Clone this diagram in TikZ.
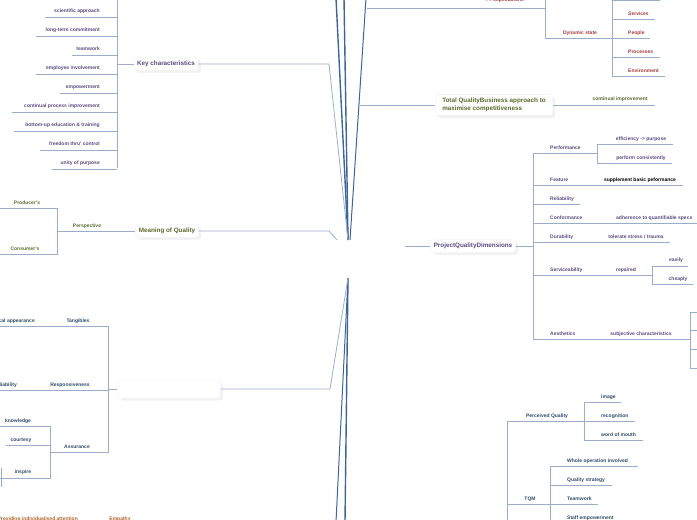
\documentclass[tikz,border=0pt]{standalone}
\usepackage{fontspec}
\setmainfont{Liberation Sans}
\usetikzlibrary{shadows}
\definecolor{cpur}{HTML}{5B4A80}
\definecolor{colv}{HTML}{5A6B2E}
\definecolor{cred}{HTML}{A33A3A}
\definecolor{ctl}{HTML}{2E4A66}
\definecolor{corg}{HTML}{B0642A}
\definecolor{cln}{HTML}{9AAECB}
\definecolor{ctr}{HTML}{3E6598}
\begin{document}
\begin{tikzpicture}[x=1pt,y=-1pt,
  lf/.style={font=\fontsize{5}{6}\selectfont\bfseries,inner sep=1pt},
  pur/.style={lf,text=cpur},
  olv/.style={lf,text=colv},
  rd/.style={lf,text=cred},
  tl/.style={lf,text=ctl},
  org/.style={lf,text=corg},
  ln/.style={draw=cln,line width=0.8pt},
  trunk/.style={draw=ctr,line width=1.4pt},
  topic/.style={draw=black!6,fill=white,rounded corners=3pt,font=\fontsize{6.3}{7.5}\selectfont\bfseries,drop shadow={opacity=0.1}}]
\useasboundingbox (0,0) rectangle (697,520);
\clip (0,0) rectangle (697,520);
% trunk
\coordinate (c) at (348,240);
\coordinate (cb) at (348,278);
\draw[trunk] (336,-2) -- (c); \draw[trunk] (344,-2) -- (c); \draw[trunk,line width=1pt] (366,-2) -- (350,240);
\draw[trunk] (cb) -- (345,522); \draw[trunk,line width=1pt] (cb) -- (336,522);
% Key characteristics
\node[topic,text=cpur] (kc) at (166,64) {Key characteristics};
\draw[ln] (kc.east) -- (329,64) -- (c);
\draw[ln] (kc.west) -- (117,64);
\draw[ln] (117,-2) -- (117,168);
\foreach \t/\y/\a in {scientific approach/11/45,long-term commitment/30/36,teamwork/49/72,employee involvement/68/36,empowerment/87/60,continual process improvement/106/12,bottom-up education \& training/125/14,freedom thru' control/144/40,unity of purpose/163/52}{
  \node[pur,anchor=east] at (101,\y) {\t};
  \draw[ln] (\a,\y+6) -- (117,\y+6);}
% Meaning of Quality
\node[topic,text=colv] (mq) at (167,231) {Meaning of Quality};
\draw[ln] (mq.east) -- (329,231) -- (337,240);
\draw[ln] (57,231) -- (mq.west);
\node[olv] (pe) at (87,226) {Perspective};
\draw[ln] (0,208) -- (57,208) -- (57,254) -- (0,254);
\node[olv] at (27,203) {Producer's};
\node[olv] at (25,249) {Consumer's};
% blank box
\node[topic,minimum width=103pt,minimum height=18pt] (bb) at (169,389) {};
\draw[ln] (bb.east) -- (330,389) -- (cb);
\draw[ln] (108,389) -- (bb.west);
\draw[ln] (0,326) -- (108,326) -- (108,452) -- (50,452);
\draw[ln] (0,390) -- (108,390);
\node[tl] at (78,321) {Tangibles};
\node[tl,anchor=east] at (36,321) {Physical appearance};
\node[tl] at (70,385) {Responsiveness};
\node[tl,anchor=east] at (18,385) {Reliability};
\node[tl] at (77,447) {Assurance};
\draw[ln] (0,426) -- (50,426) -- (50,478) -- (0,478);
\draw[ln] (6,445) -- (50,445);
\draw[ln] (1,468) -- (1,487);
\node[tl] at (18,421) {knowledge};
\node[tl] at (21,440) {courtesy};
\node[tl] at (23,472) {inspire};
\node[org] at (120,519) {Empathy};
\node[org,anchor=east] at (79,519) {Providing individualised attention};
% top right
\draw[ln] (367,8) -- (545,8);
\draw[ln] (545,-2) -- (545,38) -- (612,38);
\node[rd] at (505,0.5) {>= expectations};
\node[rd] at (580,33) {Dynamic state};
\draw[ln] (612,-2) -- (612,77);
\draw[ln] (612,0) -- (660,0);
\foreach \t/\y/\e in {Services/14/655,People/33/650,Processes/52/660,Environment/71/665}{
  \node[rd] at (627,\y) [anchor=west] {\t};
  \draw[ln] (612,\y+5) -- (\e,\y+5);}
% Total quality
\node[topic,text=colv,align=left,inner xsep=7pt,inner ysep=4pt] (tq) at (494,105) {Total QualityBusiness approach to\\maximise competitiveness};
\draw[ln] (359,105) -- (tq.west);
\draw[ln] (tq.east) -- (655,105);
\node[olv] at (620,99) {continual improvement};
% Project quality dimensions
\node[topic,text=cpur] (pq) at (473,246) {ProjectQualityDimensions};
\draw[ln] (405,246) -- (pq.west);
\draw[ln] (pq.east) -- (533,246);
\draw[ln] (533,153) -- (533,339);
\draw[ln] (533,153) -- (597,153); \draw[ln] (597,144) -- (597,163);
\draw[ln] (597,144) -- (673,144); \draw[ln] (597,163) -- (672,163);
\node[pur,anchor=west] at (549,148) {Performance};
\node[pur] at (641,139) {efficiency -> purpose};
\node[pur] at (641,158) {perform consistently};
\draw[ln] (533,185) -- (683,185);
\node[pur,anchor=west] at (549,180) {Feature};
\node[lf] at (640,180) {supplement basic peformance};
\draw[ln] (533,204) -- (580,204);
\node[pur,anchor=west] at (549,199) {Reliability};
\draw[ln] (533,223) -- (697,223);
\node[pur,anchor=west] at (549,218) {Conformance};
\node[pur,anchor=west] at (615,218) {adherence to quantifiable specs};
\draw[ln] (533,242) -- (670,242);
\node[pur,anchor=west] at (549,237) {Durability};
\node[pur] at (636,237) {tolerate stress / trauma};
\draw[ln] (533,275) -- (652,275); \draw[ln] (652,266) -- (652,284);
\draw[ln] (652,266) -- (688,266); \draw[ln] (652,284) -- (693,284);
\node[pur,anchor=west] at (549,270) {Serviceability};
\node[pur] at (626,270) {repaired};
\node[pur] at (676,260) {easily};
\node[pur] at (678,279) {cheaply};
\draw[ln] (533,339) -- (690,339); \draw[ln] (690,312) -- (690,368);
\foreach \y in {312,330,349,368}{\draw[ln] (690,\y) -- (699,\y);}
\node[pur,anchor=west] at (549,334) {Aesthetics};
\node[pur] at (641,334) {subjective characteristics};
% perceived / TQM
\draw[ln] (507,522) -- (507,421) -- (584,421); \draw[ln] (584,402) -- (584,440);
\foreach \t/\y/\e in {image/397/621,recognition/416/635,word of mouth/435/643}{
  \node[tl,anchor=west] at (600,\y) {\t}; \draw[ln] (584,\y+5) -- (\e,\y+5);}
\node[tl] at (547,416) {Perceived Quality};
\draw[ln] (507,504) -- (550,504); \draw[ln] (550,466) -- (550,522);
\node[tl] at (530,499) {TQM};
\foreach \t/\y/\e in {Whole operation involved/461/638,Quality strategy/480/612,Teamwork/499/598,Staff empowerment/518/630}{
  \node[tl,anchor=west] at (566,\y) {\t}; \draw[ln] (550,\y+5) -- (\e,\y+5);}
\end{tikzpicture}
\end{document}
